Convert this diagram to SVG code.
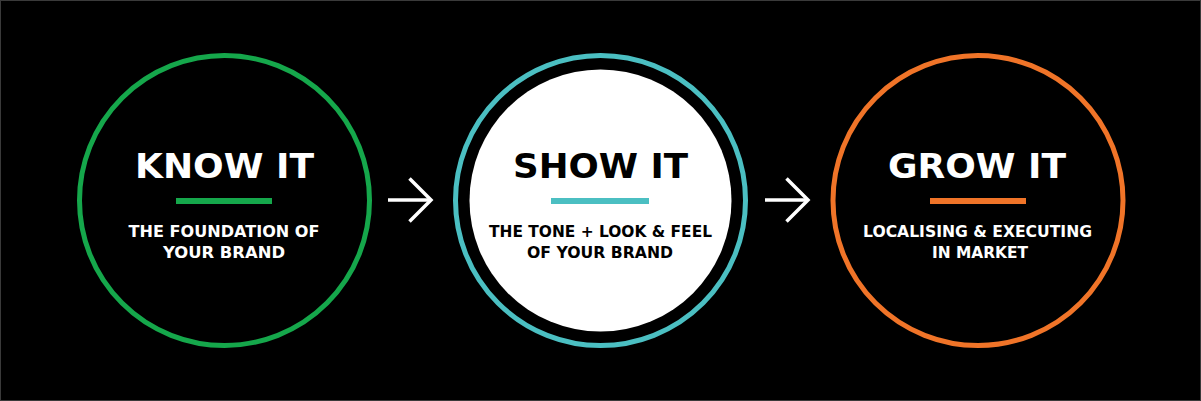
<svg xmlns="http://www.w3.org/2000/svg" width="1201" height="401" viewBox="0 0 1201 401">
  <style>
    .ring { fill: none; stroke-width: 5; }
    .title { font-family: "DejaVu Sans", "Liberation Sans", sans-serif; font-weight: bold; font-size: 34px; text-anchor: middle; }
    .sub { font-family: "DejaVu Sans", "Liberation Sans", sans-serif; font-weight: bold; font-size: 15px; text-anchor: middle; }
    .light { fill: #ffffff; }
    .dark { fill: #000000; }
    .conn { stroke: #ffffff; stroke-width: 3.5; fill: none; }
  </style>
  <defs>
    <marker id="chev" viewBox="0 0 26 46" refX="23" refY="23" markerWidth="26" markerHeight="46" markerUnits="userSpaceOnUse" orient="auto">
      <path d="M1.5 1.5 L23 23 L1.5 44.5" fill="none" stroke="#ffffff" stroke-width="3.5"/>
    </marker>
  </defs>
  <rect x="0.5" y="0.5" width="1200" height="400" fill="#000000" stroke="#3a3a3a" stroke-width="1"/>

  <g id="node-know-it">
    <circle class="ring" cx="224.5" cy="200.5" r="145" stroke="#15a74b"/>
    <text class="title light" x="224.5" y="178" textLength="179" lengthAdjust="spacingAndGlyphs">KNOW IT</text>
    <rect x="176" y="198" width="96" height="6" fill="#15a74b"/>
    <text class="sub light" x="224" y="237" textLength="191" lengthAdjust="spacingAndGlyphs">THE FOUNDATION OF</text>
    <text class="sub light" x="224" y="258" textLength="122" lengthAdjust="spacingAndGlyphs">YOUR BRAND</text>
  </g>

  <g id="node-show-it">
    <circle class="ring" cx="600.5" cy="200.5" r="145" stroke="#4bbfc2"/>
    <circle cx="600.5" cy="200.5" r="131" fill="#ffffff"/>
    <text class="title dark" x="600.5" y="178" textLength="175" lengthAdjust="spacingAndGlyphs">SHOW IT</text>
    <rect x="551" y="198" width="98" height="6" fill="#4bbfc2"/>
    <text class="sub dark" x="600.5" y="237" textLength="223" lengthAdjust="spacingAndGlyphs">THE TONE + LOOK &amp; FEEL</text>
    <text class="sub dark" x="600" y="258" textLength="146" lengthAdjust="spacingAndGlyphs">OF YOUR BRAND</text>
  </g>

  <g id="node-grow-it">
    <circle class="ring" cx="978" cy="200.5" r="145" stroke="#f07428"/>
    <text class="title light" x="977" y="178" textLength="178" lengthAdjust="spacingAndGlyphs">GROW IT</text>
    <rect x="930" y="198" width="96" height="6" fill="#f07428"/>
    <text class="sub light" x="977.5" y="237" textLength="229" lengthAdjust="spacingAndGlyphs">LOCALISING &amp; EXECUTING</text>
    <text class="sub light" x="980" y="258" textLength="96" lengthAdjust="spacingAndGlyphs">IN MARKET</text>
  </g>

  <g id="connectors">
    <path class="conn" d="M388 200 L431 200" marker-end="url(#chev)"/>
    <path class="conn" d="M765 200 L808 200" marker-end="url(#chev)"/>
  </g>
</svg>
